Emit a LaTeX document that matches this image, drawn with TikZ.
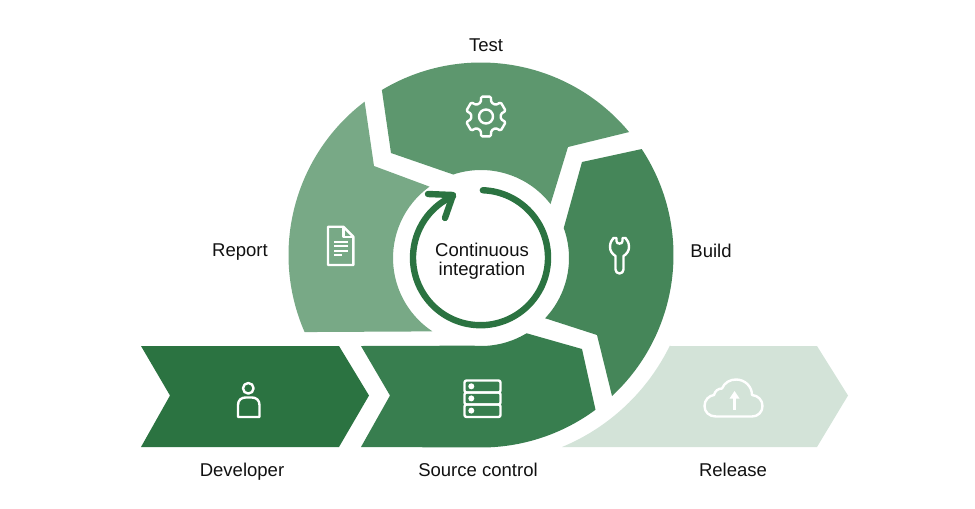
\documentclass[tikz,border=0pt]{standalone}
\usepackage{fontspec}
\setmainfont{Liberation Sans}
\usetikzlibrary{calc, positioning}
\definecolor{devGreen}{HTML}{2B7341}
\definecolor{srcGreen}{HTML}{387E4F}
\definecolor{buildGreen}{HTML}{458659}
\definecolor{testGreen}{HTML}{5D976E}
\definecolor{reportGreen}{HTML}{78A986}
\definecolor{releaseGreen}{HTML}{D3E3D8}
\definecolor{labelBlack}{HTML}{111111}
\tikzset{
    stageLabel/.style={font=\fontsize{13.9}{15}\selectfont, text=labelBlack, inner sep=0pt, anchor=base},
    iconLine/.style={draw=white, line width=1.8pt, line join=round},
    ringLine/.style={draw=devGreen, line width=4.8pt, line cap=round},
}
\newcommand{\drawGear}[2]{
    \draw[iconLine, rounded corners=1pt] (#1,#2) ++(76:20.5)
        \foreach \a in {90,150,...,390} { -- ($(#1,#2)+(\a-14:20.5)$) -- ($(#1,#2)+(\a+14:20.5)$) -- ($(#1,#2)+(\a+20:15)$) -- ($(#1,#2)+(\a+40:15)$) } -- cycle;
    \draw[iconLine] (#1,#2) circle[radius=7];
}
\begin{document}
\begin{tikzpicture}[x=0.75pt, y=-0.75pt]
    \useasboundingbox (0,0) rectangle (975,508);

    \coordinate (O) at (481,255);
    \coordinate (C) at (481,258);

    % segments
    \fill[reportGreen] ($(O)+(156.4:192.5)$) arc[start angle=156.4, end angle=232.8, radius=192.5]
        -- (374,166) -- ($(C)+(234.2:88)$) arc[start angle=234.2, end angle=123.5, radius=88] -- cycle;
    \fill[testGreen] ($(O)+(-121:192.5)$) arc[start angle=-121, end angle=-39.7, radius=192.5]
        -- (568,147) -- ($(C)+(-37.8:88)$) arc[start angle=-37.8, end angle=-108.4, radius=88] -- (391,153) -- cycle;
    \fill[buildGreen] ($(O)+(-33.4:192.5)$) arc[start angle=-33.4, end angle=47.1, radius=192.5]
        -- (597,335) -- ($(C)+(43.2:88)$) arc[start angle=43.2, end angle=-19.9, radius=88] -- (582,162) -- cycle;
    \fill[srcGreen] (361,346) -- (390,395.5) -- (361,447) -- ($(O)+(89.4:192.5)$) arc[start angle=89.4, end angle=53.5, radius=192.5]
        -- (582,349) -- ($(C)+(58.8:88)$) arc[start angle=58.8, end angle=95.2, radius=88] -- cycle;
    \fill[devGreen] (141,346) -- (339,346) -- (369,395.5) -- (339,447) -- (141,447) -- (170,395.5) -- cycle;
    \fill[releaseGreen] (562,447) arc[start angle=67.5, end angle=26, radius=209] -- (670.7,346)
        -- (817,346) -- (848,395.5) -- (817,447) -- cycle;

    % centre ring
    \draw[ringLine] (480.5,257.7) ++(-88:67.5) arc[start angle=-88, end angle=246, radius=67.5];
    \draw[ringLine, line join=round] (428,194) -- (453,195) -- (445,218);

    % icons
    \drawGear{486}{116.5}
    \draw[iconLine] (328,226.7) -- (343.3,226.7) -- (353.3,236.7) -- (353.3,265) -- (328,265) -- cycle;
    \draw[iconLine] (343.3,226.7) -- (343.3,236.7) -- (353.3,236.7);
    \foreach \y/\x in {241.8/347.7, 246.4/347.7, 250.6/347.7, 254.8/342} {
        \draw[draw=white, line width=1.4pt] (334,\y) -- (\x,\y);
    }
    \draw[iconLine] (615.5,256) .. controls (612,254) and (610,250.5) .. (610,247)
        .. controls (610,243) and (611.5,240) .. (613.5,238) -- (616.5,238) -- (616.5,241)
        .. controls (616.5,244.5) and (622.5,244.5) .. (622.5,241) -- (622.5,238) -- (625.5,238)
        .. controls (627.5,240) and (629,243) .. (629,247) .. controls (629,250.5) and (627,254) .. (623.5,256)
        -- (623.5,269.5) arc[start angle=0, end angle=180, radius=4] -- cycle;
    \draw[iconLine] (248.3,388.3) circle[radius=5.3];
    \draw[iconLine] (238,417) -- (259.5,417) -- (259.5,405) .. controls (259.5,400) and (256,397.5) .. (252,397.5)
        -- (245.5,397.5) .. controls (241.5,397.5) and (238,400) .. (238,405) -- cycle;
    \draw[iconLine, rounded corners=1.5pt] (464.5,380.5) rectangle (500.5,392.5);
    \draw[iconLine, rounded corners=1.5pt] (464.5,392.5) rectangle (500.5,404.5);
    \draw[iconLine, rounded corners=1.5pt] (464.5,404.5) rectangle (500.5,417);
    \foreach \y in {386.3, 398.4, 410.6} {
        \fill[white] (471.3,\y) circle[radius=3];
    }
    \draw[iconLine] (716,416.5) .. controls (709,416.5) and (704.5,412) .. (704.5,406) .. controls (704.5,400) and (709,395.5) .. (714,395)
        .. controls (715,391) and (718,388.5) .. (722,388.5) .. controls (724.5,382.5) and (730,379.5) .. (736,379.5)
        .. controls (745,379.5) and (752,386.5) .. (752,395) .. controls (758,395.5) and (762.5,400) .. (762.5,406)
        .. controls (762.5,412) and (758,416.5) .. (752,416.5) -- cycle;
    \draw[draw=white, line width=1.8pt] (734.5,409.5) -- (734.5,396);
    \fill[white] (734.5,391) -- (739.5,398.5) -- (729.5,398.5) -- cycle;

    % labels
    \node[stageLabel] (test) at (486,51) {Test};
    \node[stageLabel] (report) at (240,256.5) {Report};
    \node[stageLabel] (build) at (711,257) {Build};
    \node[stageLabel] (developer) at (242,476.5) {Developer};
    \node[stageLabel] (source) at (478,476.5) {Source control};
    \node[stageLabel] (release) at (733,476.5) {Release};
    \node[stageLabel] (ciTop) at (482,256.5) {Continuous};
    \node[stageLabel] (ciBottom) at (482,275.5) {integration};
\end{tikzpicture}
\end{document}
